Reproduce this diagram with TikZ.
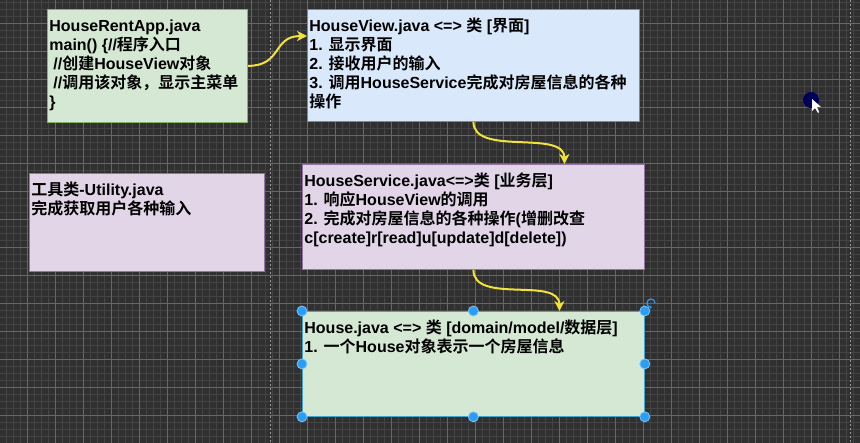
\documentclass[tikz,border=0pt]{standalone}
\usepackage{fontspec}
\setmainfont{Liberation Sans}
\newfontfamily\zh[BoldFont={Noto Sans CJK SC Bold}]{Noto Sans CJK SC}
\usetikzlibrary{arrows.meta,positioning}

\definecolor{bgdark}{HTML}{303030}
\definecolor{gridminor}{HTML}{444444}
\definecolor{gridmajor}{HTML}{676767}
\definecolor{greenfill}{HTML}{D5E8D4}
\definecolor{greenline}{HTML}{82B366}
\definecolor{bluefill}{HTML}{DAE8FC}
\definecolor{blueline}{HTML}{6C8EBF}
\definecolor{purplefill}{HTML}{E1D5E7}
\definecolor{purpleline}{HTML}{9673A6}
\definecolor{flowyellow}{HTML}{F2E23C}
\definecolor{handleblue}{HTML}{2A9DF4}

% text block inside a box: width, height, lines
\newcommand{\cardtext}[3]{\parbox[t][#2][t]{#1}{\raggedright\rule{0pt}{20pt}#3}}

\begin{document}
\begin{tikzpicture}[x=1pt, y=-1pt,
    minorline/.style={draw=gridminor, line width=0.6pt},
    majorline/.style={draw=gridmajor, line width=0.8pt},
    pagebreak/.style={draw=gray!80, dash pattern=on 2pt off 2pt, line width=0.7pt},
    card/.style={draw, rectangle, anchor=north west, inner sep=2pt, line width=0.8pt,
        font=\bfseries\fontsize{16pt}{19pt}\selectfont},
    flow/.style={draw=flowyellow, line width=2pt, -{Stealth[length=10pt, width=10pt, inset=3pt]}},
    handle/.style={circle, fill=handleblue, draw=handleblue!60, line width=0.8pt, inner sep=0pt, minimum size=10pt}]

    % Canvas and grid
    \useasboundingbox (0,0) rectangle (860,443);
    \fill[bgdark] (0,0) rectangle (860,443);
    \foreach \x in {6.7,13.7,...,860} \draw[minorline] (\x,0) -- (\x,443);
    \foreach \y in {2,9,...,443} \draw[minorline] (0,\y) -- (860,\y);
    \foreach \x in {27.7,55.7,...,860} \draw[majorline] (\x,0) -- (\x,443);
    \foreach \y in {23,51,...,443} \draw[majorline] (0,\y) -- (860,\y);
    \draw[pagebreak] (270,0) -- (270,443);
    \draw[pagebreak] (850,0) -- (850,443);

    % Class boxes
    \node[card, fill=greenfill, draw=greenline] (app) at (47,9)
        {\cardtext{196pt}{109pt}{HouseRentApp.java\\
        main() \{//{\zh 程序入口}\\
        \hspace*{4pt}//{\zh 创建}HouseView{\zh 对象}\\
        \hspace*{4pt}//{\zh 调用该对象，显示主菜单}\\
        \}}};
    \node[card, fill=bluefill, draw=blueline] (view) at (307,9)
        {\cardtext{328pt}{108pt}{HouseView.java <=> {\zh 类} [{\zh 界面}]\\
        1. {\zh 显示界面}\\
        2. {\zh 接收用户的输入}\\
        3. {\zh 调用}HouseService{\zh 完成对房屋信息的各种}\\
        {\zh 操作}}};
    \node[card, fill=purplefill, draw=purpleline] (util) at (29,173)
        {\cardtext{231pt}{94pt}{{\zh 工具类}-Utility.java\\
        {\zh 完成获取用户各种输入}}};
    \node[card, fill=purplefill, draw=purpleline] (serv) at (302,164)
        {\cardtext{338pt}{101pt}{HouseService.java<=>{\zh 类} [{\zh 业务层}]\\
        1. {\zh 响应}HouseView{\zh 的调用}\\
        2. {\zh 完成对房屋信息的各种操作}({\zh 增删改查}\\
        c[create]r[read]u[update]d[delete])}};
    \node[card, fill=greenfill, draw=handleblue!70!greenline] (house) at (302,311)
        {\cardtext{338pt}{101pt}{House.java <=> {\zh 类} [domain/model/{\zh 数据层}]\\
        1. {\zh 一个}House{\zh 对象表示一个房屋信息}}};

    % Arrow ends
    \coordinate (viewin) at ([yshift=-27pt]view.north west);
    \coordinate (servin) at ([xshift=91pt]serv.north);
    \coordinate (housein) at ([xshift=86pt]house.north);

    % Flows
    \draw[flow] (app.east) .. controls +(35,0) and +(-35,0) .. (viewin);
    \draw[flow] (view.south) .. controls +(0,35) and +(0,-35) .. (servin);
    \draw[flow] (serv.south) .. controls +(0,35) and +(0,-35) .. (housein);

    % Selection handles on the House box
    \foreach \a in {north west,north,north east,west,east,south west,south,south east}
        \node[handle] at (house.\a) {};
    \draw[handleblue, line width=1.2pt, -{Stealth[length=3pt]}] (655,303) arc (0:290:4pt);

    % Pointer
    \fill[blue!35!black] (811,100) circle (8pt);
    \fill[white] (812,99) -- (812,111) -- (815,108) -- (818,113) -- (819,112) -- (817,107) -- (821,107) -- cycle;
\end{tikzpicture}
\end{document}
